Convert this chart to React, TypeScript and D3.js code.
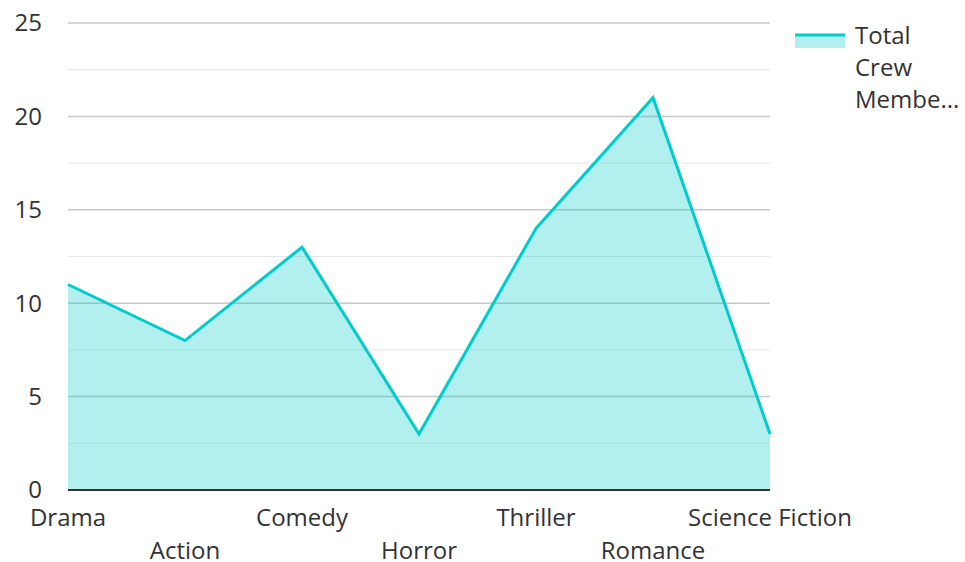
import { useRef, useEffect } from "react";
import * as d3 from "d3";

const categories = ["Drama", "Action", "Comedy", "Horror", "Thriller", "Romance", "Science Fiction"];
const crewMembers = [11, 8, 13, 3, 14, 21, 3];
const yTicks = [0, 5, 10, 15, 20, 25];
const legendLines = ["Total", "Crew", "Membe..."];

export default function App() {
  const svgRef = useRef<SVGSVGElement>(null);

  useEffect(() => {
    const w = 965;
    const h = 562;
    const left = 68;
    const right = 770;
    const top = 23;
    const bottom = 490;
    const color = "#00cccc";
    const font = "'Open Sans', 'Noto Sans', sans-serif";
    const fs = 24;

    const svg = d3.select(svgRef.current);
    svg.selectAll("*").remove();
    svg.attr("width", w).attr("height", h);

    const x = d3.scalePoint<string>().domain(categories).range([left, right]);
    const y = d3.scaleLinear().domain([0, 25]).range([bottom, top]);

    // minor grid
    const minor = d3.range(2.5, 25, 5);
    svg.append("g").selectAll("line").data(minor).join("line")
      .attr("x1", left).attr("x2", right)
      .attr("y1", (d) => y(d)).attr("y2", (d) => y(d))
      .attr("stroke", "#e6e6e6").attr("stroke-width", 1);

    // major grid
    svg.append("g").selectAll("line").data(yTicks.slice(1)).join("line")
      .attr("x1", left).attr("x2", right)
      .attr("y1", (d) => y(d)).attr("y2", (d) => y(d))
      .attr("stroke", "#c8c8c8").attr("stroke-width", 1.5);

    const area: any = d3.area<number>()
      .x((_, i) => x(categories[i])!)
      .y0(bottom)
      .y1((d) => y(d));
    const line: any = d3.line<number>()
      .x((_, i) => x(categories[i])!)
      .y((d) => y(d));

    svg.append("path").attr("d", area(crewMembers))
      .attr("fill", color).attr("fill-opacity", 0.3);
    svg.append("path").attr("d", line(crewMembers))
      .attr("fill", "none").attr("stroke", color).attr("stroke-width", 3)
      .attr("stroke-linejoin", "miter");

    // x axis line
    svg.append("line")
      .attr("x1", left).attr("x2", right)
      .attr("y1", bottom).attr("y2", bottom)
      .attr("stroke", "#333").attr("stroke-width", 2);

    // y labels
    svg.append("g").selectAll("text").data(yTicks).join("text")
      .attr("x", 42).attr("y", (d) => y(d))
      .attr("dy", "0.35em")
      .attr("text-anchor", "end")
      .attr("font-family", font).attr("font-size", fs)
      .attr("fill", "#333")
      .text((d) => d);

    // x labels, staggered
    svg.append("g").selectAll("text").data(categories).join("text")
      .attr("x", (d) => x(d)!)
      .attr("y", (_, i) => (i % 2 === 0 ? 518 : 551))
      .attr("dy", "0.35em")
      .attr("text-anchor", "middle")
      .attr("font-family", font).attr("font-size", fs)
      .attr("fill", "#333")
      .text((d) => d);

    // legend
    const lg = svg.append("g");
    lg.append("rect").attr("x", 795).attr("y", 35).attr("width", 50).attr("height", 13)
      .attr("fill", color).attr("fill-opacity", 0.3);
    lg.append("line").attr("x1", 795).attr("x2", 845).attr("y1", 35).attr("y2", 35)
      .attr("stroke", color).attr("stroke-width", 3);
    lg.selectAll("text").data(legendLines).join("text")
      .attr("x", 855).attr("y", (_, i) => 36 + i * 32)
      .attr("dy", "0.35em")
      .attr("font-family", font).attr("font-size", fs)
      .attr("fill", "#333")
      .text((d) => d);
  }, []);

  return <svg ref={svgRef} style={{ position: "absolute", left: 0, top: 0 }} />;
}
